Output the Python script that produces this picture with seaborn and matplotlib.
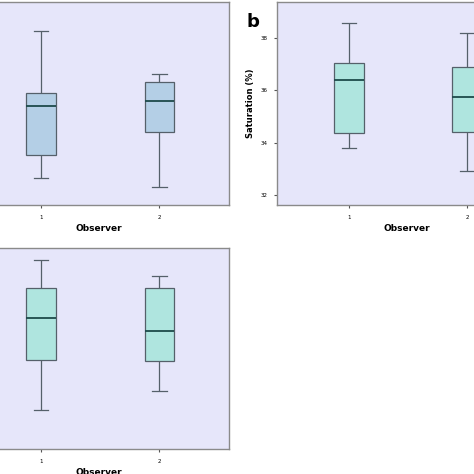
import numpy as np
import pandas as pd
import seaborn as sns
import matplotlib
matplotlib.use("Agg")
import matplotlib.pyplot as plt

observers = ["1", "2"]
# five-number summaries (min, q1, median, q3, max)
a_obs1 = [32.65, 33.54, 35.42, 35.92, 38.27]
a_obs2 = [32.31, 34.42, 35.58, 36.31, 36.65]
b_obs1 = [33.8, 34.35, 36.4, 37.05, 38.6]
b_obs2 = [32.9, 34.4, 35.75, 36.9, 38.2]
c_obs1 = [33.15, 35.08, 36.69, 37.85, 38.92]
c_obs2 = [33.88, 35.04, 36.19, 37.85, 38.31]
b_ticks = [32, 34, 36, 38]

W = H = 474.0
fig = plt.figure(figsize=(4.74, 4.74), dpi=100)
fig.patch.set_facecolor("white")

def panel(px_left, px_top, px_right, px_bottom, d1, d2, color, ylim, show_y):
    ax = fig.add_axes([px_left / W, 1 - px_bottom / H, (px_right - px_left) / W, (px_bottom - px_top) / H])
    df = pd.DataFrame({"Observer": [observers[0]] * 5 + [observers[1]] * 5, "v": d1 + d2})
    sns.boxplot(data=df, x="Observer", y="v", ax=ax, whis=np.inf, width=0.25,
                color=color, saturation=1, linewidth=0.9, linecolor="#55606a",
                medianprops=dict(color="#1d4a4a", linewidth=1.3))
    ax.set_facecolor("#e6e6fa")
    ax.set_xlim(-0.61, 1.59)
    ax.set_ylim(*ylim)
    for s in ax.spines.values():
        s.set_color("#8a8a8a")
        s.set_linewidth(1.0)
    ax.tick_params(axis="both", labelsize=4, length=2, color="#555555", pad=5)
    ax.set_xlabel("Observer", fontsize=6.5, fontweight="bold", labelpad=3)
    if show_y:
        ax.set_yticks(b_ticks)
        ax.set_ylabel("Saturation (%)", fontsize=6, fontweight="bold", labelpad=4)
    else:
        ax.set_yticks([])
        ax.set_ylabel("")
    return ax

panel(-31, 2, 229, 205, a_obs1, a_obs2, "#b4cfe6", (31.6, 39.4), False)
panel(277, 2, 537, 205, b_obs1, b_obs2, "#afe5df", (31.6, 39.4), True)
panel(-31, 248, 229, 449, c_obs1, c_obs2, "#afe5df", (31.65, 39.4), False)
fig.text(246 / W, 1 - 22 / H, "b", fontsize=13, fontweight="bold", va="center", ha="left")

fig.savefig("out.png", dpi=100)
